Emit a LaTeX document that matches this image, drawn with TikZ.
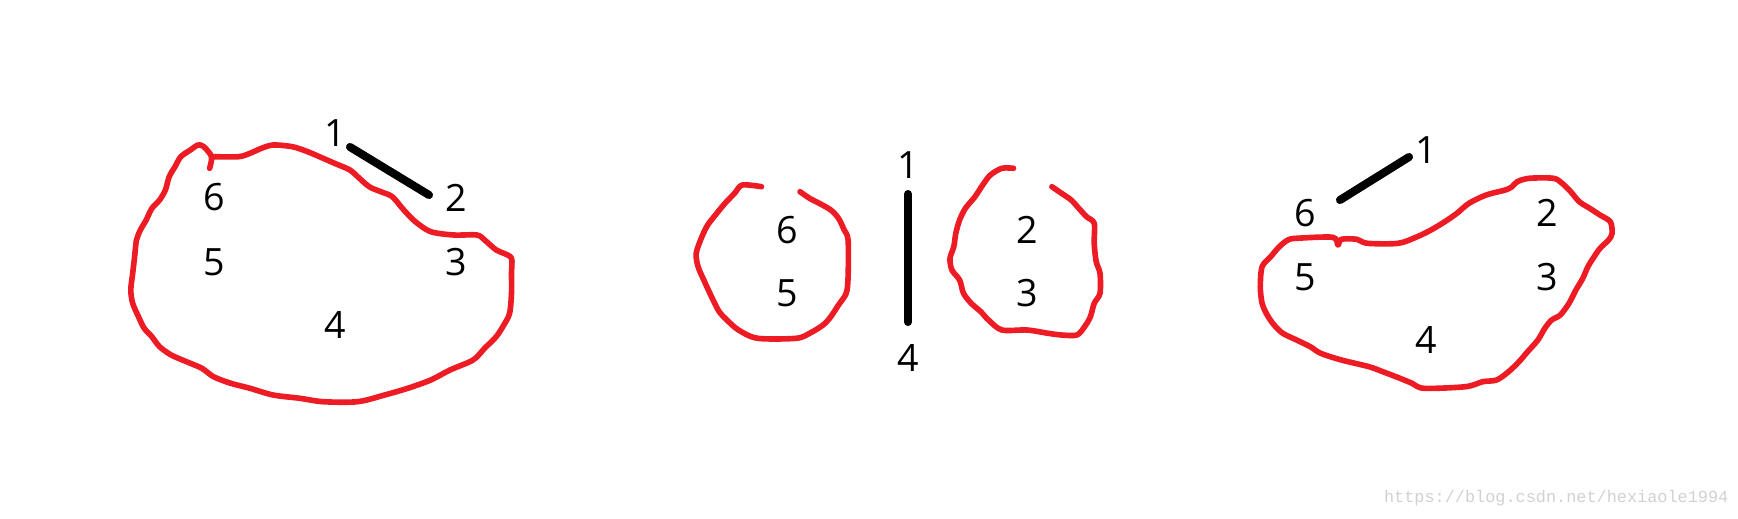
\documentclass[tikz,border=0pt]{standalone}
\usepackage{fontspec}
\setmainfont{Open Sans}
\setmonofont{Liberation Mono}
\definecolor{paintred}{RGB}{237,28,36}
\tikzset{
  blob/.style={paintred, line width=1.6pt, line join=round, line cap=round},
  cut/.style={black, line width=2.3pt, line cap=round},
  num/.style={font=\fontsize{10.7}{12}\selectfont, inner sep=0pt}
}

\begin{document}
\begin{tikzpicture}[x=0.1mm,y=-0.1mm]
\useasboundingbox (0,0) rectangle (1738,519);
% left: one region, cut from 1 to 2
\foreach \n/\x/\y in {1/335/133,2/456/198,3/456/262,4/335/325,5/214/262,6/214/197}
	\node[num] (a\n) at (\x,\y) {\n};
\draw[blob] plot[smooth, tension=.5] coordinates {(209.6,168.3) (211.5,156.7) (203.8,146.7) (198,145) (190.4,150) (180.8,156.7) (175,166.7) (169.2,176.7) (165.4,190) (159.6,200) (151.9,208.3) (146.2,220) (140.4,230) (136.5,240) (134.6,256.7) (132.7,273.3) (130.8,290) (132.7,303.3) (138.5,316.7) (144.2,328.3) (151.9,336.7) (159.6,346.7) (171.2,355) (186.5,361.7) (201.9,368.3) (213.5,376.7) (230.8,383.3) (250,388.3) (273.1,395) (300,398.3) (323.1,401.7) (357.7,401.7) (384.6,395) (407.7,388.3) (430.8,380) (450,370) (473.1,360) (484.6,348.3) (496.2,336.7) (503.8,325) (509.6,313.3) (511.5,293.3) (511.5,273.3) (511.5,258.3) (503.8,253.3) (496.2,250) (484.6,240) (476.9,235) (453.8,235) (430.8,231.7) (415.4,221.7) (403.8,210) (392.3,196.7) (380.8,191.7) (369.2,186.7) (357.7,176.7) (350,170) (334.6,163.3) (323.1,158.3) (307.7,151.7) (292.3,146.7) (273.1,145) (261.5,148.3) (250,153.3) (238.5,156.7) (213.5,156.7)};
\coordinate (a12s) at (350,147);
\coordinate (a12e) at (429,195);
\draw[cut] (a12s) -- (a12e);

% middle: cut from 1 to 4, two regions
\foreach \n/\x/\y in {1/908/165,4/908/358,6/787/230,5/787/293,2/1027/230,3/1027/293}
	\node[num] (b\n) at (\x,\y) {\n};
\draw[blob] plot[smooth, tension=.5] coordinates {(761.5,186.7) (742.3,185) (734.6,193.3) (725,203.3) (715.4,215) (707.7,225) (701.9,236.7) (696.2,253.3) (698.1,266.7) (703.8,280) (711.5,296.7) (719.2,311.7) (726.9,320) (738.5,330) (757.7,338.3) (796.2,338.3) (809.6,333.3) (823.1,325) (830.8,316.7) (838.5,305) (846.2,293.3) (848.1,276.7) (848.1,240) (844.2,230) (838.5,218.3) (830.8,210) (819.2,203.3) (809.6,198.3) (800,191.7)};
\draw[blob] plot[smooth, tension=.5] coordinates {(1013.5,168.3) (1001.9,168.3) (990.4,175) (982.7,185) (975,196.7) (965.4,208.3) (959.6,220) (955.8,233.3) (953.8,246.7) (950,258.3) (951.9,270) (959.6,280) (963.5,293.3) (971.2,303.3) (980.8,311.7) (988.5,320) (1001.9,330) (1026.9,330) (1048.1,333.3) (1061.5,335) (1076.9,335) (1084.6,326.7) (1090.4,316.7) (1094.2,303.3) (1100,293.3) (1100,273.3) (1096.2,261.7) (1094.2,243.3) (1094.2,223.3) (1086.5,216.7) (1078.8,208.3) (1071.2,200) (1061.5,193.3) (1051.9,186.7)};
\coordinate (b14s) at (908,194);
\coordinate (b14e) at (908,322);
\draw[cut] (b14s) -- (b14e);

% right: one region, cut from 1 to 6
\foreach \n/\x/\y in {1/1426/150,2/1547/213,3/1547/277,4/1426/340,5/1305/277,6/1305/213}
	\node[num] (c\n) at (\x,\y) {\n};
\draw[blob] plot[smooth cycle, tension=.5] coordinates {(1296.6,238.3) (1332.8,237.3) (1337.9,245) (1341.4,239.3) (1356.9,239.3) (1367.2,243.3) (1398.3,243.3) (1417.2,236.7) (1431,230) (1444.8,221.7) (1456.9,213.3) (1469,203.3) (1486.2,195) (1505.2,190) (1512.1,186.7) (1517.2,181.7) (1529.3,178.3) (1553.4,178.3) (1562.1,183.3) (1570.7,191.7) (1579.3,201.7) (1589.7,208.3) (1600,215) (1610.3,221.7) (1612.1,233.3) (1608.6,240) (1600,248.3) (1593.1,258.3) (1587.9,266.7) (1582.8,278.3) (1575.9,290) (1569,303.3) (1560.3,315) (1551.7,320) (1544.8,328.3) (1537.9,340) (1527.6,351.7) (1519,361.7) (1508.6,371.7) (1496.6,380) (1482.8,381.7) (1465.5,386.7) (1424.1,388.3) (1412.1,383.3) (1400,378.3) (1382.8,371.7) (1369,366.7) (1341.4,360) (1320.7,353.3) (1310.3,346.7) (1296.6,340) (1282.8,333.3) (1274.1,325) (1267.2,315) (1262.1,303.3) (1260.3,286.7) (1262.1,266.7) (1270.7,256.7) (1279.3,246.7) (1287.9,240)};
\coordinate (c16s) at (1340,200);
\coordinate (c16e) at (1409,157);
\draw[cut] (c16s) -- (c16e);

\node[font=\ttfamily\fontsize{4.8}{6}\selectfont, text=black!18, anchor=east, inner sep=0pt] (mark) at (1729,498) {https://blog.csdn.net/hexiaole1994};
\end{tikzpicture}
\end{document}
